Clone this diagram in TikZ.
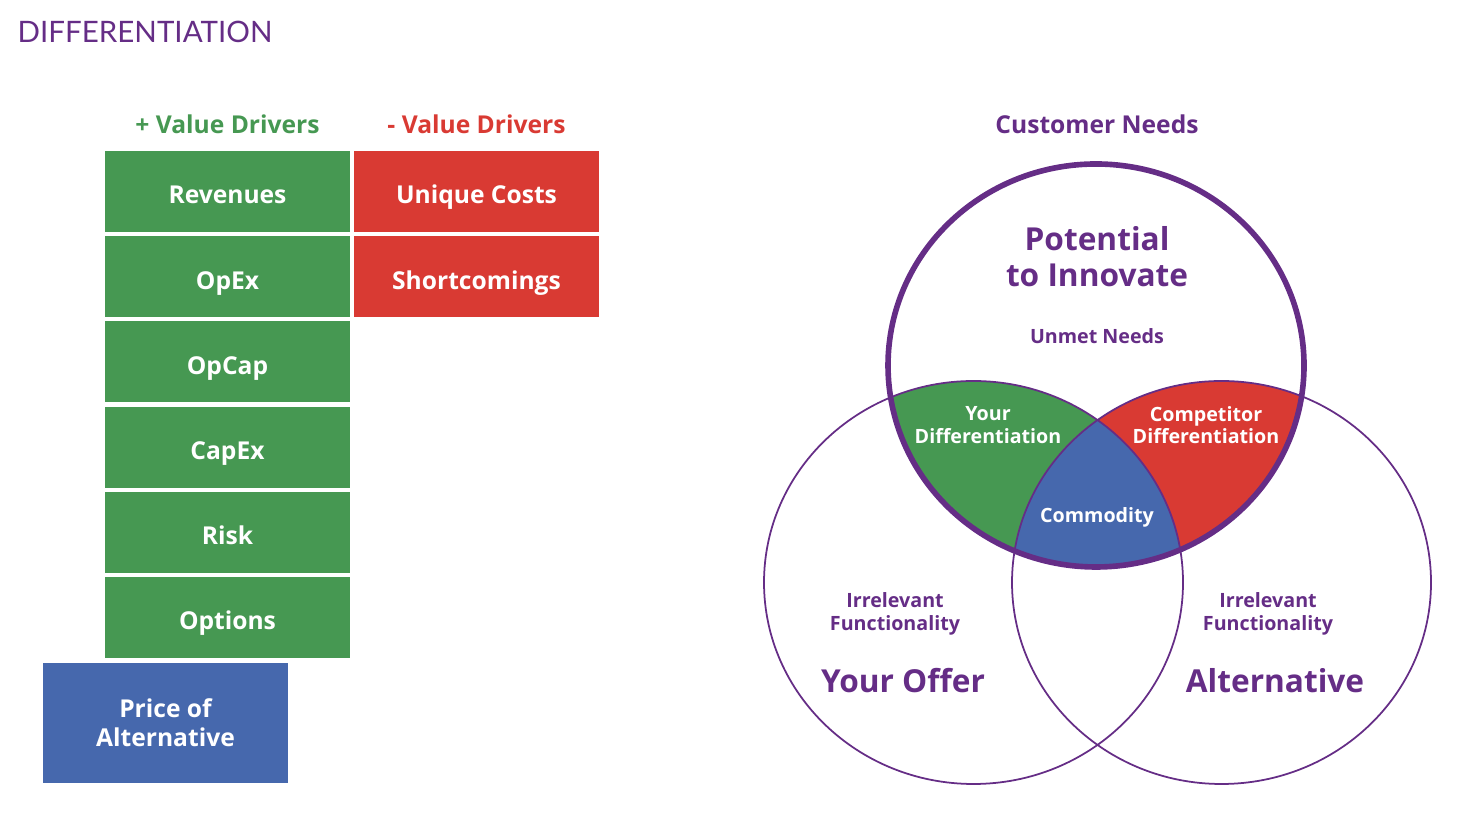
\documentclass[tikz,border=0pt]{standalone}
\usepackage{fontspec}
\setmainfont{Open Sans}
\newfontfamily\titlefont{Lato}
\usetikzlibrary{positioning, calc}
\definecolor{vgreen}{HTML}{469852}
\definecolor{vred}{HTML}{D93A33}
\definecolor{vblue}{HTML}{4668AD}
\definecolor{vpurple}{HTML}{652D86}

\begin{document}
\begin{tikzpicture}[
    node distance=0.042cm and 0.04cm,
    font=\bfseries\fontsize{7}{8.3}\selectfont,
    box/.style={rectangle, minimum width=2.45cm, minimum height=0.81cm, inner sep=0pt, outer sep=0pt, text=white, align=center},
    plus/.style={box, fill=vgreen, text height=8pt, text depth=0.9pt},
    minus/.style={box, fill=vred, text height=8pt, text depth=0.9pt},
    price/.style={box, fill=vblue, minimum height=1.20cm},
    head/.style={anchor=base, inner sep=0pt},
    region/.style={align=center, inner sep=0pt, text=white, font=\bfseries\fontsize{5.6}{6.4}\selectfont},
    small/.style={align=center, inner sep=0pt, text=vpurple, font=\bfseries\fontsize{5.6}{6.6}\selectfont},
    big/.style={align=center, inner sep=0pt, text=vpurple, font=\bfseries\fontsize{9}{10.3}\selectfont},
    thin ring/.style={draw=vpurple, line width=0.5pt},
    thick ring/.style={draw=vpurple, line width=1.6pt}
  ]
    \useasboundingbox (0,0) rectangle (14.62,8.18);
    % title
    \node[anchor=base west, inner sep=0pt, text=vpurple, font=\titlefont\fontsize{8.4}{10}\selectfont] (title) at (0.17,7.753) {DIFFERENTIATION};
    % value drivers
    \node[plus] (rev) at (2.275,6.265) {Revenues};
    \node[plus, below=of rev] (opex) {OpEx};
    \node[plus, below=of opex] (opcap) {OpCap};
    \node[plus, below=of opcap] (capex) {CapEx};
    \node[plus, below=of capex] (risk) {Risk};
    \node[plus, below=of risk] (opt) {Options};
    \node[minus, right=of rev] (ucost) {Unique Costs};
    \node[minus, right=of opex] (short) {Shortcomings};
    \node[price, anchor=north west] (alt) at ($(opt.south west)+(-0.62,-0.05)$) {Price of\\Alternative};
    \node[head, text=vgreen] (phead) at ($(rev.north)+(0,0.17)$) {+ Value Drivers};
    \node[head, text=vred] (mhead) at ($(ucost.north)+(0,0.17)$) {- Value Drivers};
    % venn
    \coordinate (needs) at (10.96,4.525);
    \coordinate (offer) at (9.735,2.355);
    \coordinate (other) at (12.215,2.355);
    \begin{scope}
      \clip (needs) ellipse [x radius=2.08, y radius=2.015];
      \fill[vgreen] (offer) ellipse [x radius=2.095, y radius=2.015];
      \fill[vred] (other) ellipse [x radius=2.095, y radius=2.015];
      \clip (offer) ellipse [x radius=2.095, y radius=2.015];
      \fill[vblue] (other) ellipse [x radius=2.095, y radius=2.015];
    \end{scope}
    \draw[thin ring] (offer) ellipse [x radius=2.095, y radius=2.015];
    \draw[thin ring] (other) ellipse [x radius=2.095, y radius=2.015];
    \draw[thick ring] (needs) ellipse [x radius=2.08, y radius=2.015];
    \node[head, text=vpurple] (chead) at (10.97,6.84) {Customer Needs};
    \node[big] (innov) at (10.97,5.61) {Potential\\to Innovate};
    \node[small] (unmet) at (10.97,4.82) {Unmet Needs};
    \node[region] (ydiff) at (9.88,3.93) {Your\\Differentiation};
    \node[region] (cdiff) at (12.06,3.93) {Competitor\\Differentiation};
    \node[region] (comm) at (10.97,3.01) {Commodity};
    \node[small] (irr1) at (8.95,2.04) {Irrelevant\\Functionality};
    \node[small] (irr2) at (12.68,2.04) {Irrelevant\\Functionality};
    \node[big] (yoff) at (9.03,1.37) {Your Offer};
    \node[big] (aoff) at (12.75,1.37) {Alternative};
  \end{tikzpicture}
\end{document}
